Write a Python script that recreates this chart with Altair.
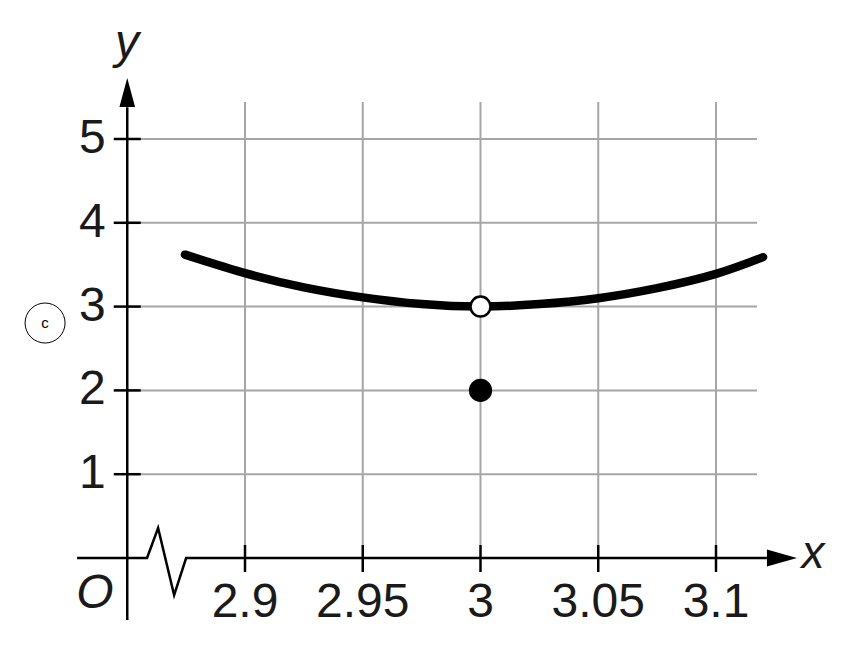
import altair as alt
import pandas as pd

# ---- data ----
curve_x = [2.8745, 2.9, 2.925, 2.95, 2.975, 3.0, 3.025, 3.05, 3.075, 3.1, 3.12]
curve_y = [3.62, 3.40, 3.23, 3.11, 3.03, 3.00, 3.03, 3.10, 3.22, 3.39, 3.59]

x_ticks = [2.9, 2.95, 3.0, 3.05, 3.1]
x_tick_labels = ["2.9", "2.95", "3", "3.05", "3.1"]
y_ticks = [1, 2, 3, 4, 5]
y_tick_labels = ["1", "2", "3", "4", "5"]

open_pt_x, open_pt_y = [3.0], [3.0]
filled_pt_x, filled_pt_y = [3.0], [2.0]

# axis geometry (data units)
y_axis_x = 2.85
grid_x_end = 3.1174
grid_y_bottom, grid_y_top = 0.155, 5.44
axis_y_bottom, axis_y_end = -0.74, 5.38
break_x = [2.8287, 2.8584, 2.8631, 2.8699, 2.8750, 3.1216]
break_y = [0.0, 0.0, 0.358, -0.442, 0.0, 0.0]

XDOM = [2.799363, 3.160722]
YDOM = [-1.0263, 6.5632]
W, H = 851, 636
FONT = "Liberation Sans"
GRID = "#a6a6a6"
TXT = "#1a1a1a"

xs = alt.Scale(domain=XDOM, nice=False, zero=False)
ys = alt.Scale(domain=YDOM, nice=False, zero=False)


def X(field="x"):
    return alt.X(f"{field}:Q", scale=xs, axis=None)


def Y(field="y"):
    return alt.Y(f"{field}:Q", scale=ys, axis=None)


grid_h = alt.Chart(pd.DataFrame({"y": y_ticks, "x": y_axis_x, "x2": grid_x_end})).mark_rule(
    color=GRID, strokeWidth=2).encode(x=X(), x2="x2:Q", y=Y())
grid_v = alt.Chart(pd.DataFrame({"x": x_ticks, "y": grid_y_bottom, "y2": grid_y_top})).mark_rule(
    color=GRID, strokeWidth=2).encode(x=X(), y=Y(), y2="y2:Q")

y_axis = alt.Chart(pd.DataFrame({"x": [y_axis_x], "y": [axis_y_bottom], "y2": [axis_y_end]})).mark_rule(
    color="black", strokeWidth=2.5).encode(x=X(), y=Y(), y2="y2:Q")

x_axis = alt.Chart(pd.DataFrame({"x": break_x, "y": break_y, "o": list(range(len(break_x)))})).mark_line(
    color="black", strokeWidth=2.5, strokeJoin="miter").encode(x=X(), y=Y(), order="o:Q")

y_ticks_m = alt.Chart(pd.DataFrame({"y": y_ticks, "x": y_axis_x - 0.00573, "x2": y_axis_x + 0.00573})).mark_rule(
    color="black", strokeWidth=2.5).encode(x=X(), x2="x2:Q", y=Y())
x_ticks_m = alt.Chart(pd.DataFrame({"x": x_ticks, "y": -0.167, "y2": 0.155})).mark_rule(
    color="black", strokeWidth=2.5).encode(x=X(), y=Y(), y2="y2:Q")

arrow_up = alt.Chart(pd.DataFrame({"x": [y_axis_x], "y": [5.555]})).mark_point(
    shape="M0,-1L0.54,1L-0.54,1Z", size=841, filled=True, color="black", opacity=1).encode(x=X(), y=Y())
arrow_right = alt.Chart(pd.DataFrame({"x": [3.128], "y": [0.0]})).mark_point(
    shape="M1,0L-1,-0.57L-1,0.57Z", size=900, filled=True, color="black", opacity=1).encode(x=X(), y=Y())

y_labels = alt.Chart(pd.DataFrame({"y": y_ticks, "t": y_tick_labels, "x": 2.8408})).mark_text(
    font=FONT, fontSize=48, align="right", baseline="alphabetic", color=TXT, dy=14).encode(
    x=X(), y=Y(), text="t:N")
x_labels = alt.Chart(pd.DataFrame({"x": x_ticks, "t": x_tick_labels, "y": -0.704})).mark_text(
    font=FONT, fontSize=48, align="center", baseline="alphabetic", color=TXT).encode(
    x=X(), y=Y(), text="t:N")

origin = alt.Chart(pd.DataFrame({"x": [2.8363], "y": [-0.597], "t": ["O"]})).mark_text(
    font=FONT, fontSize=48, fontStyle="italic", align="center", baseline="alphabetic", color=TXT).encode(
    x=X(), y=Y(), text="t:N")
y_title = alt.Chart(pd.DataFrame({"x": [2.8499], "y": [5.967], "t": ["y"]})).mark_text(
    font=FONT, fontSize=48, fontStyle="italic", align="center", baseline="alphabetic", color=TXT).encode(
    x=X(), y=Y(), text="t:N")
x_title = alt.Chart(pd.DataFrame({"x": [3.1412], "y": [-0.119], "t": ["x"]})).mark_text(
    font=FONT, fontSize=46, fontStyle="italic", align="center", baseline="alphabetic", color=TXT).encode(
    x=X(), y=Y(), text="t:N")

curve = alt.Chart(pd.DataFrame({"x": curve_x, "y": curve_y})).mark_line(
    color="black", strokeWidth=8.5, strokeCap="round", interpolate="natural").encode(x=X(), y=Y())

open_pt = alt.Chart(pd.DataFrame({"x": open_pt_x, "y": open_pt_y})).mark_point(
    shape="circle", size=400, filled=False, fill="white", fillOpacity=1, stroke="black",
    strokeWidth=2.5, opacity=1).encode(x=X(), y=Y())
filled_pt = alt.Chart(pd.DataFrame({"x": filled_pt_x, "y": filled_pt_y})).mark_point(
    shape="circle", size=540, filled=True, color="black", opacity=1).encode(x=X(), y=Y())

badge = alt.Chart(pd.DataFrame({"x": [2.8151], "y": [2.804]})).mark_point(
    shape="circle", size=1600, filled=False, fill="white", fillOpacity=1, stroke="black",
    strokeWidth=1, opacity=1).encode(x=X(), y=Y())
badge_t = alt.Chart(pd.DataFrame({"x": [2.8151], "y": [2.804], "t": ["c"]})).mark_text(
    font=FONT, fontSize=15, align="center", baseline="middle", color="black").encode(
    x=X(), y=Y(), text="t:N")

chart = alt.layer(
    grid_h, grid_v, y_axis, x_axis, y_ticks_m, x_ticks_m, arrow_up, arrow_right,
    y_labels, x_labels, origin, y_title, x_title, curve, open_pt, filled_pt, badge, badge_t
).properties(
    width=W, height=H, padding=0, autosize=alt.AutoSizeParams(type="none"), background="white"
).configure_view(strokeWidth=0)

chart.save("out.html", embed_options={"renderer": "svg", "actions": False})
